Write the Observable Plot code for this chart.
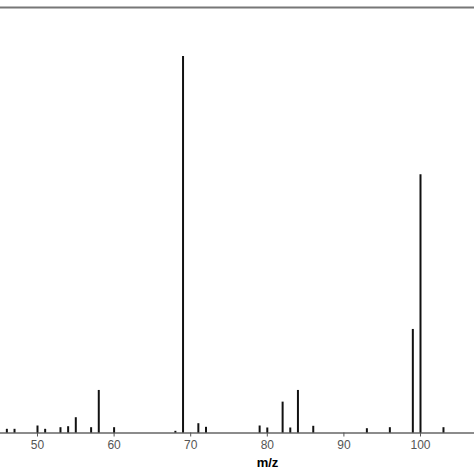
<!DOCTYPE html>
<html>
<head>
<meta charset="utf-8">
<script src="https://cdn.jsdelivr.net/npm/d3@7"></script>
<script src="https://cdn.jsdelivr.net/npm/@observablehq/plot@0.6"></script>
<style>
  html, body { margin: 0; padding: 0; background: #fff; }
  #chart svg { display: block; }
</style>
</head>
<body>
<div id="chart"></div>
<script>
const mz = [46, 47, 50, 51, 53, 54, 55, 57, 58, 60, 68, 69, 71, 72, 79, 80, 82, 83, 84, 86, 93, 96, 99, 100, 103];
const intensity = [0.98, 0.98, 1.86, 0.98, 1.41, 1.67, 4.06, 1.41, 11.3, 1.41, 0.45, 100, 2.47, 1.51, 1.86, 1.33, 8.2, 1.33, 11.3, 1.78, 1.14, 1.41, 27.5, 68.6, 1.41];
const xTicks = [50, 60, 70, 80, 90, 100];
const xDomain = [45.17, 107.05];
const yDomain = [0, 113];
const xLabel = "m/z";

const peaks = mz.map((m, i) => ({mz: m, intensity: intensity[i]}));

const chart = Plot.plot({
  width: 474,
  height: 474,
  marginTop: 7,
  marginBottom: 41.5,
  marginLeft: 0,
  marginRight: 0,
  style: {fontFamily: "'Liberation Sans', Arial, sans-serif", fontSize: "12px", background: "#fff"},
  x: {domain: xDomain, ticks: xTicks, tickSize: 4, tickPadding: 3, label: null},
  y: {domain: yDomain, axis: null},
  marks: [
    Plot.frame({anchor: "top", stroke: "#777", strokeWidth: 2}),
    Plot.ruleY([0], {stroke: "#666", strokeWidth: 1.5}),
    Plot.axisX({ticks: xTicks, tickSize: 4, tickPadding: 3, stroke: "#555", color: "#555", label: null, fontSize: 12}),
    Plot.ruleX(peaks, {x: "mz", y1: 0, y2: "intensity", stroke: "#111", strokeWidth: 2}),
    Plot.text([xLabel], {frameAnchor: "bottom", dx: 30, dy: 34, text: d => d, fontWeight: "bold", fontSize: 13, fill: "#000"})
  ]
});
document.getElementById("chart").appendChild(chart);
</script>
</body>
</html>
